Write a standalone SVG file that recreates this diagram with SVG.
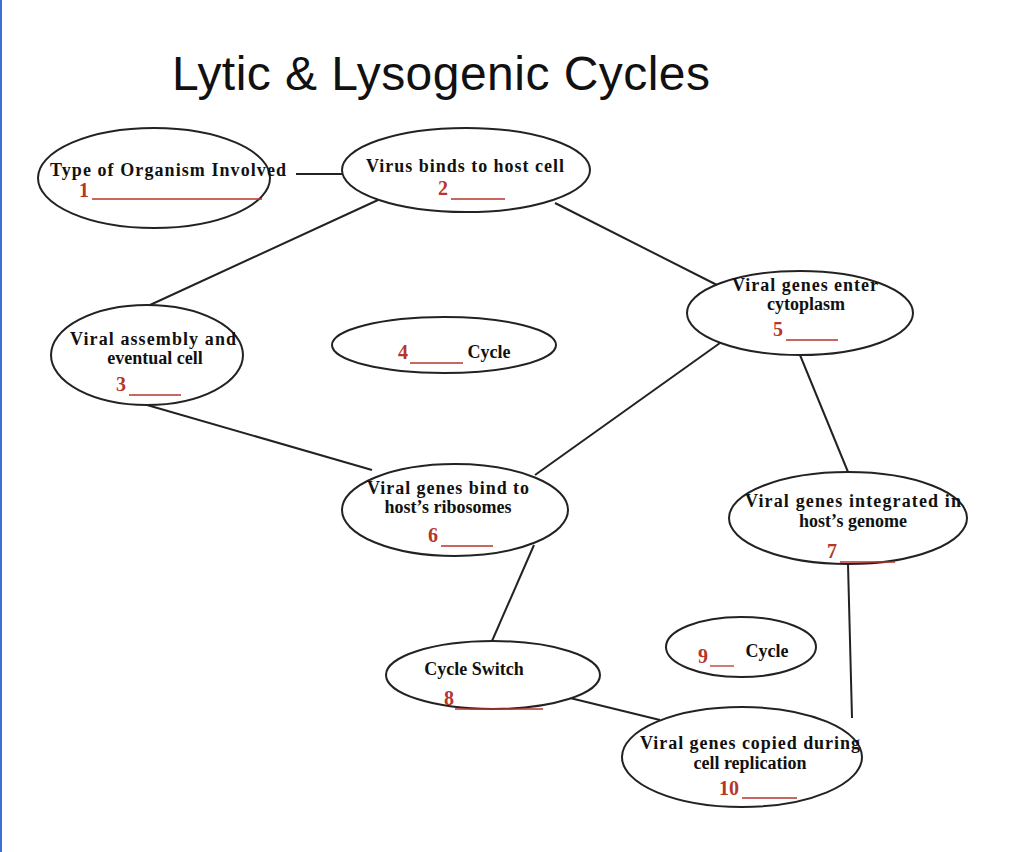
<svg xmlns="http://www.w3.org/2000/svg" width="1024" height="852" viewBox="0 0 1024 852">
<style>
.n{fill:#fff;stroke:#222;stroke-width:2}
.t{font-family:"Liberation Serif",serif;font-weight:bold;font-size:18px;fill:#111;text-anchor:middle}
.r{font-family:"Liberation Serif",serif;font-weight:bold;font-size:20px;fill:#b5362b;text-anchor:middle}
.u{stroke:#b5362b;stroke-width:1.3}
#c line{stroke:#222;stroke-width:2}
</style>
<rect width="1024" height="852" fill="#fff"/>
<rect width="2" height="852" fill="#3a6fd8"/>
<text x="172" y="90" font-family="Liberation Sans,Arial,sans-serif" font-size="48" fill="#111" textLength="538">Lytic &amp; Lysogenic Cycles</text>
<g id="c">
<line x1="296" y1="174" x2="342" y2="174"/>
<line x1="378" y1="200" x2="150" y2="305"/>
<line x1="555" y1="203" x2="717" y2="285"/>
<line x1="147" y1="405" x2="372" y2="470"/>
<line x1="720" y1="343" x2="535" y2="475"/>
<line x1="800" y1="355" x2="848" y2="472"/>
<line x1="534" y1="545" x2="492" y2="641"/>
<line x1="848" y1="564" x2="852" y2="718"/>
<line x1="570" y1="698" x2="660" y2="720"/>
</g>
<g id="n1"><ellipse class="n" cx="154" cy="178" rx="116" ry="50"/><text class="t" x="168" y="176" textLength="236">Type of Organism Involved</text><text class="r" x="84" y="197">1</text><line class="u" x1="92" y1="199" x2="262" y2="199"/></g>
<g id="n2"><ellipse class="n" cx="466" cy="170" rx="124" ry="42"/><text class="t" x="465" y="172" textLength="198">Virus binds to host cell</text><text class="r" x="443" y="195">2</text><line class="u" x1="451" y1="199" x2="505" y2="199"/></g>
<g id="n3"><ellipse class="n" cx="147" cy="355" rx="96" ry="50"/><text class="t" x="153" y="345" textLength="166">Viral assembly and</text><text class="t" x="155" y="364">eventual cell</text><text class="r" x="121" y="391">3</text><line class="u" x1="129" y1="395" x2="181" y2="395"/></g>
<g id="n4"><ellipse class="n" cx="444" cy="345" rx="112" ry="28"/><text class="r" x="403" y="359">4</text><line class="u" x1="410" y1="363" x2="463" y2="363"/><text class="t" x="489" y="358">Cycle</text></g>
<g id="n5"><ellipse class="n" cx="800" cy="313" rx="113" ry="42"/><text class="t" x="805" y="291" textLength="146">Viral genes enter</text><text class="t" x="806" y="310">cytoplasm</text><text class="r" x="778" y="336">5</text><line class="u" x1="786" y1="340" x2="838" y2="340"/></g>
<g id="n6"><ellipse class="n" cx="455" cy="510" rx="113" ry="46"/><text class="t" x="448" y="494" textLength="162">Viral genes bind to</text><text class="t" x="448" y="513">host’s ribosomes</text><text class="r" x="433" y="542">6</text><line class="u" x1="441" y1="546" x2="493" y2="546"/></g>
<g id="n7"><ellipse class="n" cx="848" cy="518" rx="119" ry="46"/><text class="t" x="853" y="507" textLength="216">Viral genes integrated in</text><text class="t" x="853" y="527">host’s genome</text><text class="r" x="832" y="558">7</text><line class="u" x1="840" y1="562" x2="895" y2="562"/></g>
<g id="n8"><ellipse class="n" cx="493" cy="675" rx="107" ry="34"/><text class="t" x="474" y="675">Cycle Switch</text><text class="r" x="449" y="705">8</text><line class="u" x1="455" y1="709" x2="543" y2="709"/></g>
<g id="n9"><ellipse class="n" cx="741" cy="647" rx="75" ry="30"/><text class="r" x="703" y="663">9</text><line class="u" x1="710" y1="666" x2="734" y2="666"/><text class="t" x="767" y="657">Cycle</text></g>
<g id="n10"><ellipse class="n" cx="742" cy="757" rx="120" ry="50"/><text class="t" x="750" y="749" textLength="220">Viral genes copied during</text><text class="t" x="750" y="769">cell replication</text><text class="r" x="729" y="795">10</text><line class="u" x1="742" y1="798" x2="797" y2="798"/></g>
</svg>
